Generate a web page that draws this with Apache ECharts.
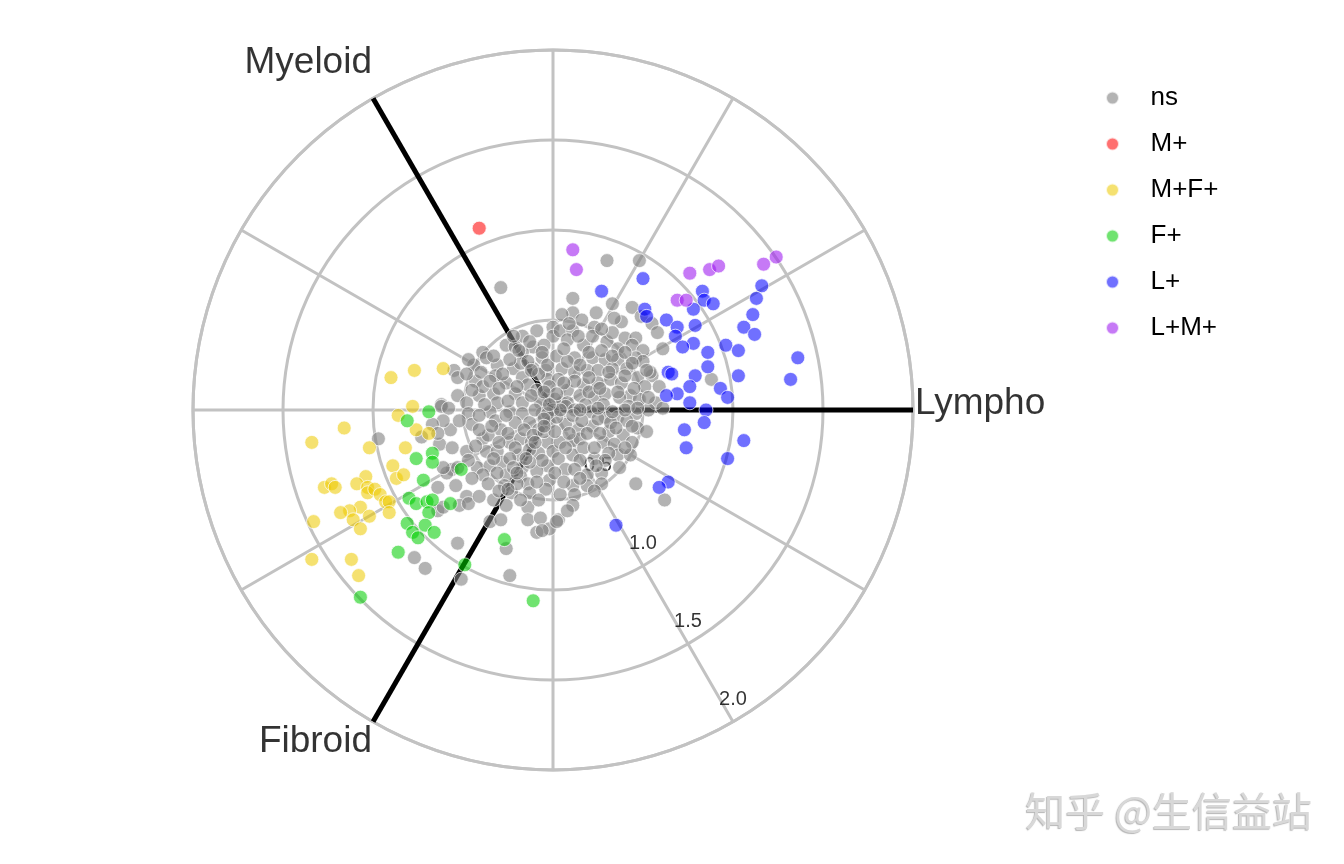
<!DOCTYPE html>
<html>
<head>
<meta charset="utf-8">
<script src="https://cdn.jsdelivr.net/npm/echarts@6/dist/echarts.min.js"></script>
<style>html,body{margin:0;padding:0;background:#fff}#c{width:1344px;height:864px}</style>
</head>
<body>
<div id="c"></div>
<script>
// ---- data (x, y in radial-plot units) ----
const nsPoints = [
[-0.29,0.68],[-0.09,0.44],[0.00,0.46],[-0.17,0.41],[0.00,0.41],[-0.26,0.36],[-0.11,0.35],[-0.05,0.36],[-0.39,0.32],[-0.37,0.29],[-0.17,0.32],[-0.06,0.29],[-0.44,0.25],[-0.31,0.25],[-0.22,0.23],[-0.11,0.23],[-0.04,0.22],[-0.55,0.22],[-0.53,0.18],[-0.32,0.19],[-0.26,0.15],[-0.17,0.18],[-0.14,0.14],[-0.03,0.17],[-0.43,0.16],[-0.53,0.08],[-0.41,0.08],[-0.33,0.09],[-0.21,0.09],[-0.09,0.11],[-0.03,0.08],[-0.62,0.03],[-0.48,0.04],[-0.31,0.04],[-0.17,0.04],[-0.07,0.04],[-0.18,0.26],
[0.11,0.62],[0.11,0.54],[0.33,0.59],[0.44,0.57],[0.05,0.53],[0.23,0.46],[0.38,0.49],[0.49,0.52],[0.04,0.44],[0.11,0.44],[0.55,0.48],[0.08,0.39],[0.17,0.36],[0.22,0.41],[0.30,0.38],[0.33,0.43],[0.40,0.40],[0.46,0.40],[0.44,0.36],[0.58,0.43],[0.50,0.33],[0.36,0.34],[0.61,0.34],[0.12,0.29],[0.22,0.29],[0.29,0.28],[0.36,0.28],[0.46,0.29],[0.50,0.27],[0.05,0.23],[0.12,0.21],[0.19,0.22],[0.25,0.22],[0.33,0.23],[0.41,0.23],[0.55,0.19],[0.47,0.18],[0.03,0.17],[0.08,0.11],[0.17,0.14],[0.25,0.15],[0.32,0.17],[0.38,0.15],[0.43,0.08],[0.51,0.13],[0.59,0.13],[0.15,0.08],[0.23,0.07],[0.29,0.09],[0.37,0.07],[0.48,0.06],[0.05,0.04],[0.08,0.04],[0.18,0.03],[0.57,0.04],
[-0.62,0.02],[-0.47,-0.02],[-0.35,-0.01],[-0.24,-0.01],[-0.17,-0.02],[-0.06,-0.02],[-0.57,-0.11],[-0.45,-0.08],[-0.32,-0.06],[-0.29,-0.11],[-0.21,-0.07],[-0.13,-0.07],[-0.08,-0.11],[-0.02,-0.07],[-0.63,-0.19],[-0.56,-0.21],[-0.48,-0.23],[-0.39,-0.16],[-0.36,-0.14],[-0.24,-0.18],[-0.18,-0.16],[-0.12,-0.18],[-0.03,-0.18],[-0.37,-0.23],[-0.31,-0.23],[-0.19,-0.25],[-0.08,-0.24],[0.00,-0.23],[-0.56,-0.33],[-0.42,-0.32],[-0.35,-0.31],[-0.28,-0.29],[-0.17,-0.32],[-0.03,-0.31],[-0.09,-0.34],[-0.59,-0.35],[-0.39,-0.36],[-0.54,-0.42],[-0.26,-0.36],[-0.18,-0.37],[-0.27,-0.42],[-0.14,-0.41],[-0.23,-0.46],[-0.48,-0.48],[-0.13,-0.46],[-0.02,-0.39],[-0.04,-0.44],[-0.52,-0.53],[-0.33,-0.50],[-0.14,-0.54],[-0.35,-0.62],[-0.29,-0.61],[-0.14,-0.61],[-0.07,-0.60],[-0.02,-0.66],
[0.07,0.02],[0.21,-0.01],[0.29,-0.04],[0.36,-0.04],[0.46,-0.02],[0.53,0.00],[0.61,0.01],[0.07,-0.08],[0.14,-0.11],[0.22,-0.09],[0.31,-0.12],[0.39,-0.14],[0.47,-0.10],[0.52,-0.12],[0.04,-0.18],[0.11,-0.17],[0.15,-0.16],[0.28,-0.18],[0.34,-0.19],[0.44,-0.18],[0.03,-0.27],[0.11,-0.25],[0.23,-0.27],[0.36,-0.25],[0.43,-0.25],[0.07,-0.33],[0.37,-0.32],[0.19,-0.36],[0.27,-0.35],[0.11,-0.42],[0.19,-0.42],[0.27,-0.41],[0.04,-0.47],[0.12,-0.47],[0.46,-0.41],[0.62,-0.50],[0.11,-0.53],[0.03,-0.61],
[0.30,0.83],[0.48,0.83],[0.54,0.21],[0.88,0.17],[-0.39,0.13],[-0.58,0.01],[-0.61,-0.06],[-0.97,-0.16],[-0.73,-0.15],[-0.67,-0.08],[-0.64,-0.13],[-0.61,-0.32],[-0.53,-0.32],[-0.64,-0.43],[-0.64,-0.56],[-0.61,-0.54],[-0.47,-0.52],[-0.53,-0.74],[-0.77,-0.82],[-0.71,-0.88],[-0.51,-0.94],[-0.09,-0.68],[-0.06,-0.67],[0.02,-0.62],[-0.26,-0.77],[-0.24,-0.92],
[-0.48,0.20],[-0.40,0.21],[-0.35,0.16],[-0.28,0.20],[-0.24,0.28],[-0.14,0.27],[-0.08,0.20],[-0.12,0.08],[-0.25,0.05],[-0.38,0.03],[-0.45,0.11],[-0.30,0.12],[-0.20,0.13],[-0.02,0.13],[-0.06,0.32],[-0.13,0.38],[-0.21,0.35],[-0.33,0.30],[-0.47,0.28],[-0.10,0.00],[-0.26,-0.03],[-0.41,-0.03],[-0.03,0.25],[-0.22,0.41],
[0.02,0.30],[0.08,0.27],[0.15,0.25],[0.20,0.32],[0.27,0.33],[0.33,0.30],[0.40,0.32],[0.27,0.45],[0.16,0.50],[0.06,0.34],[0.14,0.41],[0.40,0.19],[0.45,0.12],[0.36,0.10],[0.28,0.03],[0.12,0.16],[0.20,0.10],[0.06,0.15],[0.01,0.06],[0.12,0.00],[0.26,0.12],[0.44,0.26],[0.52,0.22],[0.34,0.51],[0.24,0.54],[0.53,0.07],[0.42,0.02],[0.20,0.18],[0.31,0.21],[0.09,0.48],
[-0.52,-0.06],[-0.41,-0.11],[-0.34,-0.09],[-0.25,-0.13],[-0.16,-0.11],[-0.11,-0.14],[-0.05,-0.12],[-0.43,-0.20],[-0.30,-0.18],[-0.21,-0.21],[-0.13,-0.22],[-0.06,-0.28],[-0.13,-0.29],[-0.24,-0.27],[-0.33,-0.27],[-0.47,-0.28],[-0.22,-0.32],[-0.31,-0.35],[-0.45,-0.38],[-0.36,-0.41],[-0.20,-0.41],[-0.09,-0.40],[-0.30,-0.45],[-0.41,-0.48],[-0.18,-0.50],[-0.08,-0.50],[-0.26,-0.53],
[0.02,-0.04],[0.11,-0.03],[0.16,-0.06],[0.25,-0.05],[0.32,-0.07],[0.41,-0.06],[0.01,-0.12],[0.09,-0.13],[0.19,-0.13],[0.26,-0.13],[0.35,-0.10],[0.44,-0.09],[0.07,-0.21],[0.17,-0.21],[0.23,-0.21],[0.31,-0.24],[0.40,-0.21],[0.15,-0.28],[0.29,-0.28],[0.01,-0.35],[0.12,-0.33],[0.24,-0.31],[0.15,-0.38],[0.06,-0.40],[0.23,-0.45],[0.08,-0.56],
[0.00,0.00],[-0.03,-0.02],[0.02,0.09],[-0.05,-0.05],[0.15,0.00],[0.25,0.01],[0.33,-0.01],[0.40,0.00],[0.47,0.01],[-0.05,0.10],[-0.12,0.22],[-0.19,0.33],[-0.05,-0.09],[-0.10,-0.18],[-0.15,-0.27],[-0.20,-0.35],[-0.25,-0.44],[0.04,0.00],[-0.02,0.03]
];
const mPoints = [[-0.41,1.01]];
const mfPoints = [
[-0.90,0.18],[-0.77,0.22],[-0.61,0.23],[-0.78,0.02],[-0.86,-0.03],[-1.16,-0.10],[-1.34,-0.18],[-1.02,-0.21],[-0.82,-0.21],[-0.76,-0.11],[-0.69,-0.13],[-0.89,-0.31],[-0.87,-0.38],[-0.83,-0.36],[-1.04,-0.37],[-1.27,-0.43],[-1.23,-0.41],[-1.21,-0.43],[-1.09,-0.41],[-1.03,-0.43],[-1.03,-0.46],[-0.99,-0.44],[-0.96,-0.47],[-0.93,-0.51],[-0.91,-0.51],[-1.07,-0.54],[-1.13,-0.56],[-1.18,-0.57],[-1.11,-0.61],[-1.07,-0.66],[-1.02,-0.59],[-0.91,-0.57],[-1.33,-0.62],[-1.34,-0.83],[-1.12,-0.83],[-1.08,-0.92]
];
const fPoints = [
[-0.69,-0.01],[-0.81,-0.06],[-0.76,-0.27],[-0.67,-0.24],[-0.67,-0.29],[-0.51,-0.33],[-0.72,-0.39],[-0.80,-0.49],[-0.76,-0.52],[-0.70,-0.51],[-0.67,-0.50],[-0.57,-0.52],[-0.69,-0.57],[-0.81,-0.63],[-0.71,-0.64],[-0.78,-0.68],[-0.75,-0.71],[-0.66,-0.68],[-0.86,-0.79],[-0.49,-0.86],[-1.07,-1.04],[-0.27,-0.72],[-0.11,-1.06]
];
const lPoints = [
[0.50,0.73],[0.27,0.66],[0.83,0.66],[0.84,0.61],[0.89,0.59],[0.78,0.56],[0.51,0.56],[0.52,0.52],[0.63,0.50],[0.69,0.46],[0.68,0.41],[0.79,0.47],[0.78,0.37],[0.72,0.35],[0.96,0.36],[1.03,0.33],[0.86,0.32],[1.16,0.69],[1.13,0.62],[1.11,0.53],[1.06,0.46],[1.12,0.42],[0.86,0.24],[0.79,0.19],[0.64,0.21],[0.66,0.20],[1.03,0.19],[1.36,0.29],[1.32,0.17],[0.93,0.12],[0.97,0.07],[0.76,0.13],[0.69,0.09],[0.63,0.08],[0.76,0.04],[0.85,0.00],[0.84,-0.07],[0.73,-0.11],[1.06,-0.17],[0.74,-0.21],[0.97,-0.27],[0.64,-0.40],[0.59,-0.43],[0.35,-0.64]
];
const lmPoints = [
[0.11,0.89],[0.13,0.78],[0.76,0.76],[0.87,0.78],[0.92,0.80],[1.17,0.81],[1.24,0.85],[0.69,0.61],[0.74,0.61]
];
const groupNames = ['ns','M+','M+F+','F+','L+','L+M+'];
const groupColors = ['rgba(128,128,128,0.75)','rgba(255,0,0,0.7)','rgba(238,201,0,0.7)','rgba(0,205,0,0.7)','rgba(0,0,255,0.7)','rgba(160,32,240,0.75)'];
const groupData = [nsPoints, mPoints, mfPoints, fPoints, lPoints, lmPoints];
const axisNames = ['Lympho','Myeloid','Fibroid'];
const axisAngles = [0, 120, 240];
const radiusTicks = [0.5, 1.0, 1.5, 2.0];
const RMAX = 2.0;
const START = 300;   // angle at which the radial tick labels sit

function toAngleValue(deg){ return ((deg - START) % 360 + 360) % 360; }
function toPolar(p){
  const r = Math.hypot(p[0], p[1]);
  const a = Math.atan2(p[1], p[0]) * 180 / Math.PI;
  return [r, toAngleValue(a)];
}

const chart = echarts.init(document.getElementById('c'), null, {renderer:'canvas'});
const gridColor = '#c2c2c2';
const FONT = 'Liberation Sans, Arial, sans-serif';
const series = [];

axisAngles.forEach(function(a){
  series.push({
    type:'line', coordinateSystem:'polar', silent:true, z:2,
    symbol:'none', lineStyle:{color:'#000', width:5},
    data:[[0, toAngleValue(a)], [RMAX, toAngleValue(a)]]
  });
});

const titleOffsets = [[2,-6],[-1,-35],[-1,20]];
const titleAlign = ['left','right','right'];
axisNames.forEach(function(n, i){
  series.push({
    type:'scatter', coordinateSystem:'polar', silent:true, z:3,
    symbolSize:1, itemStyle:{color:'rgba(0,0,0,0)'},
    label:{show:true, position:'inside', offset:titleOffsets[i], formatter:n,
      color:'#000', fontSize:37, fontFamily:FONT,
      align:titleAlign[i], verticalAlign:'middle'},
    data:[[RMAX, toAngleValue(axisAngles[i])]]
  });
});

series.push({
  type:'scatter', coordinateSystem:'polar', silent:true, z:3,
  symbolSize:1, itemStyle:{color:'rgba(0,0,0,0)'},
  label:{show:true, position:'inside', offset:[0,-22],
    formatter:function(p){ return p.value[0].toFixed(1); },
    color:'#000', fontSize:20, fontFamily:FONT},
  data: radiusTicks.map(function(t){ return [t, 0]; })
});

groupNames.forEach(function(n, i){
  series.push({
    name:n, type:'scatter', coordinateSystem:'polar', z:5, silent:true,
    symbol:'circle', symbolSize:14,
    itemStyle:{color:groupColors[i], borderColor:'rgba(255,255,255,0.9)', borderWidth:1},
    data: groupData[i].map(toPolar)
  });
});

chart.setOption({
  animation:false,
  backgroundColor:'#fff',
  polar:{center:[553,410], radius:360},
  angleAxis:{type:'value', min:0, max:360, interval:30, startAngle:START, clockwise:false,
    axisLine:{show:true, lineStyle:{color:gridColor, width:3}},
    axisTick:{show:false}, axisLabel:{show:false},
    splitLine:{show:true, lineStyle:{color:gridColor, width:3}}},
  radiusAxis:{type:'value', min:0, max:RMAX, interval:0.5,
    axisLine:{show:false}, axisTick:{show:false}, axisLabel:{show:false},
    splitLine:{show:true, lineStyle:{color:gridColor, width:3}}},
  legend:{orient:'vertical', left:1100, top:80, icon:'circle', itemWidth:66, itemHeight:13, itemGap:20,
    data:groupNames, selectedMode:false,
    textStyle:{fontSize:26, color:'#000', fontFamily:FONT}},
  graphic:[{type:'text', right:32, bottom:33, silent:true,
    style:{text:'知乎 @生信益站', font:'40px "Noto Sans CJK SC"', fill:'#d8d8d8',
      textShadowColor:'rgba(110,110,110,0.5)', textShadowOffsetX:-1, textShadowOffsetY:1, textShadowBlur:1}}],
  series:series
});
</script>
</body>
</html>
